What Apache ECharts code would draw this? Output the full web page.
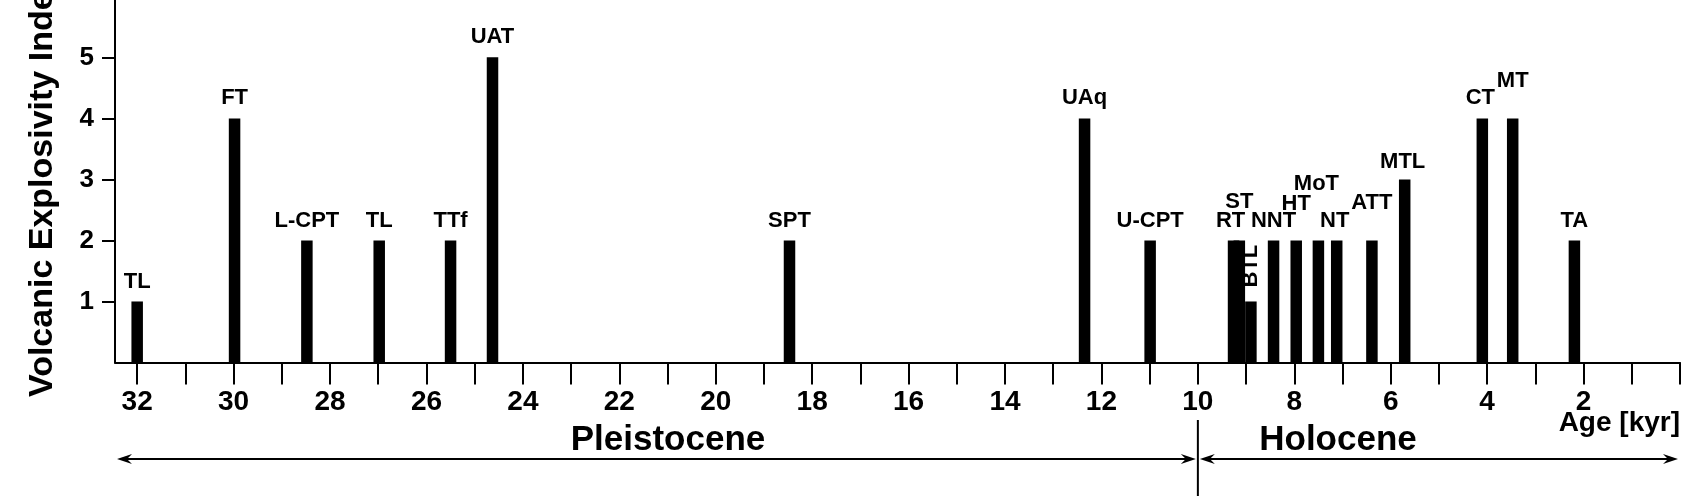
<!DOCTYPE html>
<html>
<head>
<meta charset="utf-8">
<script src="https://cdn.jsdelivr.net/npm/echarts@6/dist/echarts.min.js"></script>
<style>
html,body{margin:0;padding:0;background:#fff;}
#chart{width:1701px;height:496px;}
</style>
</head>
<body>
<div id="chart"></div>
<script>
// ---- data ----
const eventNames = ['TL','FT','L-CPT','TL','TTf','UAT','SPT','UAq','U-CPT','RT','ST','BTL','NNT','HT','MoT','NT','ATT','MTL','CT','MT','TA'];
const eventAges  = [32.0, 29.98, 28.48, 26.98, 25.5, 24.63, 18.47, 12.35, 10.99, 9.26, 9.14, 8.9, 8.43, 7.96, 7.5, 7.12, 6.39, 5.71, 4.1, 3.47, 2.19];
const eventVEI   = [1, 4, 2, 2, 2, 5, 2, 4, 2, 2, 2, 1, 2, 2, 2, 2, 2, 3, 4, 4, 2];
const xTickLabels = [32, 30, 28, 26, 24, 22, 20, 18, 16, 14, 12, 10, 8, 6, 4, 2];
const xTicks = [0,1,2,3,4,5,6,7,8,9,10,11,12,13,14,15,16,17,18,19,20,21,22,23,24,25,26,27,28,29,30,31,32];
const yTickLabels = [1, 2, 3, 4, 5];
const epochNames = ['Pleistocene', 'Holocene'];
const epochFrom = [32.46, 10];
const epochTo = [10, 0];

// ---- label placement tweaks (style only) ----
const labelTweaks = {
  'RT':  {offset: [-3, 0]},
  'ST':  {offset: [0, -19]},
  'BTL': {rotate: 90, align: 'left', verticalAlign: 'middle', distance: 14},
  'HT':  {offset: [0, -17]},
  'MoT': {offset: [-2, -37]},
  'NT':  {offset: [-2, 0]},
  'ATT': {offset: [0, -18]},
  'MTL': {offset: [-2, 3]},
  'CT':  {offset: [-2, 0]},
  'MT':  {offset: [0, -17]}
};

const FONT = 'Liberation Sans, Arial, Helvetica, sans-serif';

const barData = eventNames.map((n, i) => {
  const item = {name: n, value: [eventAges[i], eventVEI[i]]};
  if (labelTweaks[n]) item.label = labelTweaks[n];
  return item;
});

const chart = echarts.init(document.getElementById('chart'), null, {renderer: 'canvas'});

const axisLineStyle = {color: '#000', width: 2};

chart.setOption({
  animation: false,
  backgroundColor: '#fff',
  grid: {left: 115, right: 21, top: 0, bottom: 133.5, containLabel: false, outerBoundsMode: 'none'},
  xAxis: {
    type: 'value',
    inverse: true,
    min: 0,
    max: 32.46,
    axisLine: {show: true, onZero: false, lineStyle: axisLineStyle},
    axisTick: {show: true, inside: false, length: 22, lineStyle: {color: '#000', width: 2}, customValues: xTicks},
    axisLabel: {show: true, margin: 26, color: '#000', fontSize: 28, fontWeight: 'bold', fontFamily: FONT, customValues: xTickLabels},
    splitLine: {show: false},
    minorTick: {show: false}
  },
  yAxis: {
    type: 'value',
    min: 0,
    max: 5.94,
    axisLine: {show: true, onZero: false, lineStyle: axisLineStyle},
    axisTick: {show: true, inside: false, length: 13, lineStyle: {color: '#000', width: 2}, customValues: yTickLabels},
    axisLabel: {show: true, margin: 21, color: '#000', fontSize: 26, fontWeight: 'bold', fontFamily: FONT, customValues: yTickLabels},
    splitLine: {show: false}
  },
  series: [{
    type: 'bar',
    barWidth: 11.5,
    itemStyle: {color: '#000'},
    label: {
      show: true,
      position: 'top',
      distance: 9,
      formatter: '{b}',
      color: '#000',
      fontSize: 22,
      fontWeight: 'bold',
      fontFamily: FONT
    },
    data: barData
  }]
});

// ---- annotations below the axis (positions taken from the x axis scale) ----
const px = v => chart.convertToPixel({xAxisIndex: 0}, v);
const arrowY = 459;
const headLen = 15, headHalf = 5, notch = 10;
function head(tipX, dir) {
  return {
    type: 'polygon',
    shape: {points: [
      [tipX, arrowY],
      [tipX - dir * headLen, arrowY - headHalf],
      [tipX - dir * notch, arrowY],
      [tipX - dir * headLen, arrowY + headHalf]
    ]},
    style: {fill: '#000'}
  };
}
const g = [];
epochNames.forEach((name, i) => {
  const a = px(epochFrom[i]) + 2;
  const b = px(epochTo[i]) - 2;
  g.push({type: 'line', shape: {x1: a + 4, y1: arrowY, x2: b - 4, y2: arrowY}, style: {stroke: '#000', lineWidth: 2}});
  g.push(head(a, -1));
  g.push(head(b, 1));
});
const divX = px(epochTo[0]);
g.push({type: 'line', shape: {x1: divX, y1: 420, x2: divX, y2: 496}, style: {stroke: '#000', lineWidth: 2}});
g.push({type: 'text', x: 668, y: 440, style: {text: epochNames[0], fill: '#000', font: 'bold 35px ' + FONT, textAlign: 'center', textVerticalAlign: 'middle'}});
g.push({type: 'text', x: 1338, y: 440, style: {text: epochNames[1], fill: '#000', font: 'bold 35px ' + FONT, textAlign: 'center', textVerticalAlign: 'middle'}});
g.push({type: 'text', x: 1680, y: 423, style: {text: 'Age [kyr]', fill: '#000', font: 'bold 28px ' + FONT, textAlign: 'right', textVerticalAlign: 'middle'}});
g.push({type: 'text', x: 43, y: 397, rotation: Math.PI / 2, style: {text: 'Volcanic Explosivity Index', fill: '#000', font: 'bold 34px ' + FONT, textAlign: 'left', textVerticalAlign: 'middle'}});
chart.setOption({graphic: g});
</script>
</body>
</html>
